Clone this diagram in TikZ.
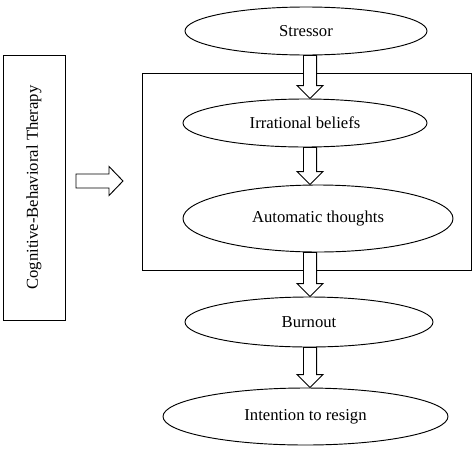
\documentclass[tikz,border=0pt]{standalone}
\usepackage{fontspec}
\setmainfont{Liberation Serif}
\usetikzlibrary{calc,positioning,shapes.geometric}
\tikzset{
  oval/.style={draw,ellipse,line width=0.7pt,fill=white,inner sep=0pt,font=\fontsize{12.5}{14}\selectfont},
  box/.style={draw,line width=0.7pt,inner sep=0pt,font=\fontsize{12.5}{14}\selectfont},
  fat/.style={draw,line width=0.7pt,fill=white,line join=miter}
}
% block arrow: start, tip, shaft half width, head half width, head length
\newcommand{\fatarrow}[5]{%
  \coordinate (hb) at ($(#2)!#5!(#1)$);
  \draw[fat] ($(#1)!#3!90:(#2)$) -- ($(hb)!#3!90:(#2)$) -- ($(hb)!#4!90:(#2)$) -- (#2)
    -- ($(hb)!#4!-90:(#2)$) -- ($(hb)!#3!-90:(#2)$) -- ($(#1)!#3!-90:(#2)$) -- cycle;
}

\begin{document}
\begin{tikzpicture}[x=0.75pt,y=-0.75pt]
\useasboundingbox (0,0) rectangle (474,450);
\node[box,minimum width=246.75pt,minimum height=147.75pt] (frame) at (306.5,171.5) {};
\node[oval,minimum width=181.5pt,minimum height=36pt] (stress) at (306,31) {Stressor};
\node[oval,minimum width=183pt,minimum height=36pt] (irr) at (305,123) {Irrational beliefs};
\node[oval,minimum width=202.5pt,minimum height=50.25pt] (auto) at (318,218.5) {Automatic thoughts};
\node[oval,minimum width=186pt,minimum height=37.5pt] (burn) at (309,322) {Burnout};
\node[oval,minimum width=213.75pt,minimum height=42.75pt] (resign) at (305.5,416.5) {Intention to resign};
\node[box,rotate=90,minimum width=198.75pt,minimum height=46.5pt] (cbt) at (34,187.5) {Cognitive-Behavioral Therapy};
% arrows
\coordinate (axis) at (310,0);
\fatarrow{stress.south -| axis}{irr.north -| axis}{4.9pt}{9.75pt}{9.75pt}
\fatarrow{irr.south -| axis}{auto.north -| axis}{4.9pt}{9.75pt}{9.75pt}
\fatarrow{auto.south -| axis}{burn.north -| axis}{4.9pt}{9.75pt}{9.75pt}
\fatarrow{burn.south -| axis}{resign.north -| axis}{4.9pt}{9.75pt}{9.75pt}
\coordinate (hs) at (76,181);
\coordinate (ht) at (123,181);
\fatarrow{hs}{ht}{5.25pt}{10.9pt}{10.5pt}
\end{tikzpicture}
\end{document}
